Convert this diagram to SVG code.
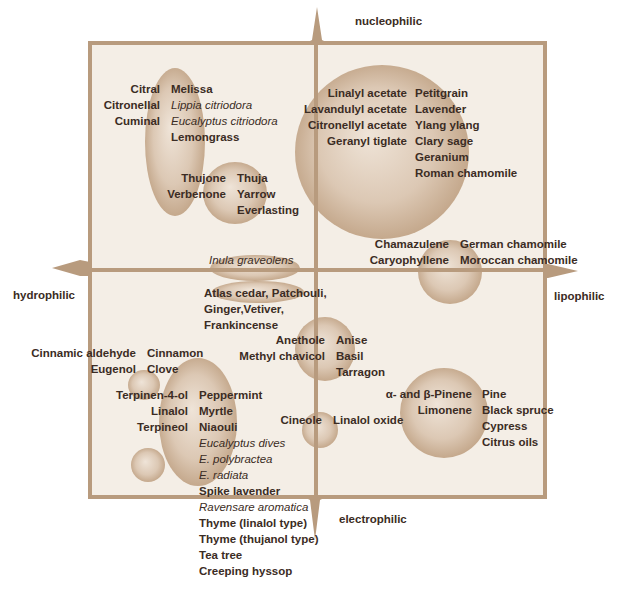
<svg xmlns="http://www.w3.org/2000/svg" width="640" height="592" viewBox="0 0 640 592">
<style>
text{font-family:"Liberation Sans",Arial,sans-serif;font-weight:bold;font-size:11.5px;fill:#3b2c24}
.i{font-style:italic;font-weight:normal}
.r{text-anchor:end}
.b{fill:url(#g)}
.f{fill:none;stroke:#b89b7e;stroke-width:4}
</style>
<defs>
<radialGradient id="g" cx="0.5" cy="0.5" r="0.55" fx="0.42" fy="0.4">
<stop offset="0" stop-color="#efe4d8"/>
<stop offset="0.6" stop-color="#dcc8b4"/>
<stop offset="1" stop-color="#bfa183"/>
</radialGradient>
</defs>
<rect width="640" height="592" fill="#ffffff"/>
<rect x="90" y="43" width="455" height="454" fill="#f4eee6"/>
<g id="bubbles">
<ellipse class="b" cx="175" cy="142" rx="30" ry="74"/>
<ellipse class="b" cx="235" cy="193" rx="32" ry="31"/>
<ellipse class="b" cx="382" cy="152" rx="87" ry="87"/>
<ellipse class="b" cx="450" cy="272" rx="32" ry="32"/>
<ellipse class="b" cx="255" cy="268" rx="45" ry="13"/>
<ellipse class="b" cx="258" cy="292" rx="46" ry="11"/>
<ellipse class="b" cx="325" cy="349" rx="30" ry="32"/>
<ellipse class="b" cx="198" cy="422" rx="39" ry="64"/>
<ellipse class="b" cx="144" cy="385" rx="16" ry="15"/>
<ellipse class="b" cx="148" cy="465" rx="17" ry="17"/>
<ellipse class="b" cx="320" cy="430" rx="18" ry="18"/>
<ellipse class="b" cx="444" cy="413" rx="44" ry="45"/>
</g>
<g id="connectors" fill="#b89b7e">
<rect class="f" x="90" y="43" width="455" height="454"/>
<line class="f" x1="316" y1="43" x2="316" y2="497"/>
<line class="f" x1="90" y1="270" x2="545" y2="270"/>
<path d="M317 7 L322 40 L330 44 L304 44 L312 40 Z"/>
<path d="M52 268 L80 260 L90 262 L90 276 L80 276 Z"/>
<path d="M578 271 L548 264 L545 264 L545 278 L548 278 Z"/>
<path d="M315 540 L310 500 L302 496 L328 496 L320 500 Z"/>
</g>
<g id="axes">
<text x="355" y="25">nucleophilic</text>
<text x="13" y="299">hydrophilic</text>
<text x="554" y="300">lipophilic</text>
<text x="339" y="523">electrophilic</text>
</g>
<g id="q1">
<text class="r" x="160" y="93">Citral</text>
<text class="r" x="160" y="109">Citronellal</text>
<text class="r" x="160" y="125">Cuminal</text>
<text x="171" y="93">Melissa</text>
<text class="i" x="171" y="109">Lippia citriodora</text>
<text class="i" x="171" y="125">Eucalyptus citriodora</text>
<text x="171" y="141">Lemongrass</text>
<text class="r" x="226" y="182">Thujone</text>
<text class="r" x="226" y="198">Verbenone</text>
<text x="237" y="182">Thuja</text>
<text x="237" y="198">Yarrow</text>
<text x="237" y="214">Everlasting</text>
<text class="i" x="209" y="264">Inula graveolens</text>
</g>
<g id="q2">
<text class="r" x="407" y="97">Linalyl acetate</text>
<text class="r" x="407" y="113">Lavandulyl acetate</text>
<text class="r" x="407" y="129">Citronellyl acetate</text>
<text class="r" x="407" y="145">Geranyl tiglate</text>
<text x="415" y="97">Petitgrain</text>
<text x="415" y="113">Lavender</text>
<text x="415" y="129">Ylang ylang</text>
<text x="415" y="145">Clary sage</text>
<text x="415" y="161">Geranium</text>
<text x="415" y="177">Roman chamomile</text>
<text class="r" x="449" y="248">Chamazulene</text>
<text class="r" x="449" y="264">Caryophyllene</text>
<text x="460" y="248">German chamomile</text>
<text x="460" y="264">Moroccan chamomile</text>
</g>
<g id="q3">
<text x="204" y="297">Atlas cedar, Patchouli,</text>
<text x="204" y="313">Ginger,Vetiver,</text>
<text x="204" y="329">Frankincense</text>
<text class="r" x="325" y="344">Anethole</text>
<text class="r" x="325" y="360">Methyl chavicol</text>
<text x="336" y="344">Anise</text>
<text x="336" y="360">Basil</text>
<text x="336" y="376">Tarragon</text>
<text class="r" x="136" y="357">Cinnamic aldehyde</text>
<text class="r" x="136" y="373">Eugenol</text>
<text x="147" y="357">Cinnamon</text>
<text x="147" y="373">Clove</text>
<text class="r" x="188" y="399">Terpinen-4-ol</text>
<text class="r" x="188" y="415">Linalol</text>
<text class="r" x="188" y="431">Terpineol</text>
<text x="199" y="399">Peppermint</text>
<text x="199" y="415">Myrtle</text>
<text x="199" y="431">Niaouli</text>
<text class="i" x="199" y="447">Eucalyptus dives</text>
<text class="i" x="199" y="463">E. polybractea</text>
<text class="i" x="199" y="479">E. radiata</text>
<text x="199" y="495">Spike lavender</text>
<text class="i" x="199" y="511">Ravensare aromatica</text>
<text x="199" y="527">Thyme (linalol type)</text>
<text x="199" y="543">Thyme (thujanol type)</text>
<text x="199" y="559">Tea tree</text>
<text x="199" y="575">Creeping hyssop</text>
</g>
<g id="q4">
<text class="r" x="322" y="424">Cineole</text>
<text x="333" y="424">Linalol oxide</text>
<text class="r" x="472" y="398">α- and β-Pinene</text>
<text class="r" x="472" y="414">Limonene</text>
<text x="482" y="398">Pine</text>
<text x="482" y="414">Black spruce</text>
<text x="482" y="430">Cypress</text>
<text x="482" y="446">Citrus oils</text>
</g>
</svg>
